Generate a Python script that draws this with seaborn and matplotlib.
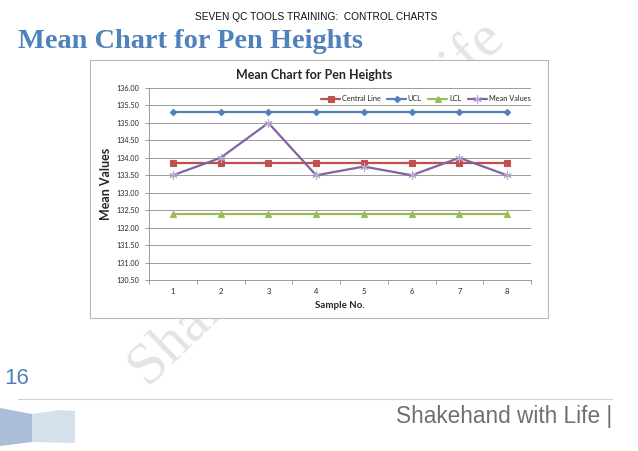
import pandas as pd
import seaborn as sns
import matplotlib.pyplot as plt
from matplotlib.patches import Rectangle, Polygon
from matplotlib.ticker import FormatStrFormatter, MultipleLocator

# data
samples = [1, 2, 3, 4, 5, 6, 7, 8]
mean_values = [133.50, 134.00, 135.00, 133.50, 133.75, 133.50, 134.00, 133.50]
central_line = [133.84] * 8
ucl = [135.30] * 8
lcl = [132.38] * 8
series_names = ["Central Line", "UCL", "LCL", "Mean Values"]
y_ticks = [130.5, 131.0, 131.5, 132.0, 132.5, 133.0, 133.5, 134.0, 134.5, 135.0, 135.5, 136.0]

df = pd.DataFrame({
    "Sample No.": samples,
    "Central Line": central_line,
    "UCL": ucl,
    "LCL": lcl,
    "Mean Values": mean_values,
})

sns.set_theme(style="white")
plt.rcParams["font.family"] = ["Lato", "DejaVu Sans"]

fig = plt.figure(figsize=(6.38, 4.51), dpi=100)
fig.patch.set_facecolor("white")

# watermark
fig.text(318 / 638, 1 - 205 / 451, "Shakehand with Life", rotation=44, fontsize=43,
         family="Liberation Serif", color="#e4e4e4", ha="center", va="center", zorder=0)

# chart box
fig.patches.append(Rectangle((90 / 638, 1 - 318 / 451), 458 / 638, 258 / 451,
                             transform=fig.transFigure, facecolor="white",
                             edgecolor="#b8b8b8", linewidth=0.8, zorder=1))

ax = fig.add_axes([149 / 638, 1 - 280 / 451, 382 / 638, 192 / 451], zorder=2)
ax.set_facecolor("none")

palette = {"Central Line": "#C0504D", "UCL": "#4F81BD", "LCL": "#9BBB59", "Mean Values": "#8064A2"}
markers = {"Central Line": "s", "UCL": "D", "LCL": "^", "Mean Values": (6, 2, 0)}
sizes = {"Central Line": 4.5, "UCL": 3.2, "LCL": 4.5, "Mean Values": 6}
edge = {"Central Line": "#C0504D", "UCL": "#4F81BD", "LCL": "#9BBB59", "Mean Values": "#b8a8d0"}

for name in series_names:
    sns.lineplot(data=df, x="Sample No.", y=name, color=palette[name], marker=markers[name],
                 markersize=sizes[name], markeredgecolor=edge[name], markeredgewidth=0.8,
                 linewidth=1.6, label=name, ax=ax)

ax.set_xlim(0.5, 8.5)
ax.set_ylim(130.5, 136.0)
ax.set_yticks(y_ticks)
ax.yaxis.set_major_formatter(FormatStrFormatter("%.2f"))
ax.set_xticks(samples)
ax.xaxis.set_minor_locator(MultipleLocator(1, offset=0.5))
ax.grid(axis="y", color="#8c8c8c", linewidth=0.6)
ax.set_axisbelow(True)
for s in ["top", "right"]:
    ax.spines[s].set_visible(False)
for s in ["left", "bottom"]:
    ax.spines[s].set_color("#8c8c8c")
    ax.spines[s].set_linewidth(0.6)
ax.tick_params(axis="y", which="major", length=3, width=0.6, color="#8c8c8c", labelsize=5.2, pad=4, left=True)
ax.tick_params(axis="x", which="major", length=0, labelsize=5.5, pad=6)
ax.tick_params(axis="x", which="minor", length=3, width=0.6, color="#8c8c8c", bottom=True)

fig.text(314 / 638, 1 - 75 / 451, "Mean Chart for Pen Heights", fontsize=9, fontweight="bold",
         ha="center", va="center", zorder=3)
ax.set_ylabel("Mean Values", fontsize=9, fontweight="bold", labelpad=3)
ax.set_xlabel("Sample No.", fontsize=7, fontweight="bold", labelpad=4)

handles, labels = ax.get_legend_handles_labels()
ax.legend(handles, labels, loc="upper right", bbox_to_anchor=(1.01, 0.985), ncol=4,
          frameon=False, fontsize=5.3, handlelength=2.6, columnspacing=0.9,
          handletextpad=0.2, borderaxespad=0.2)

# page decorations
fig.text(316 / 638, 1 - 17 / 451, "SEVEN QC TOOLS TRAINING:  CONTROL CHARTS",
         family="Liberation Sans", fontsize=7.3, color="#111111", ha="center", va="center")
fig.text(18 / 638, 1 - 42 / 451, "Mean Chart for Pen Heights", family="Liberation Serif",
         fontweight="bold", fontsize=20.4, color="#4F81BD", ha="left", va="center")
fig.text(4 / 638, 1 - 379 / 451, "16", family="Liberation Sans", fontsize=16,
         color="#4F81BD", ha="left", va="center")
fig.add_artist(plt.Line2D([18 / 638, 612 / 638], [1 - 399 / 451, 1 - 399 / 451],
                          transform=fig.transFigure, color="#d0d0d0", linewidth=0.8))
fig.text(612 / 638, 1 - 416 / 451, "Shakehand with Life |", family="Liberation Sans",
         fontsize=16.3, color="#707070", ha="right", va="center")
fig.patches.append(Polygon([(0, 1 - 408 / 451), (32 / 638, 1 - 414 / 451),
                            (32 / 638, 1 - 442 / 451), (0, 1 - 446 / 451)],
                           transform=fig.transFigure, facecolor="#aabed8", edgecolor="none"))
fig.patches.append(Polygon([(32 / 638, 1 - 414 / 451), (60 / 638, 1 - 410 / 451),
                            (75 / 638, 1 - 411 / 451), (75 / 638, 1 - 443 / 451),
                            (32 / 638, 1 - 442 / 451)],
                           transform=fig.transFigure, facecolor="#d6e0ec", edgecolor="none"))

fig.savefig("out.png", dpi=100)
